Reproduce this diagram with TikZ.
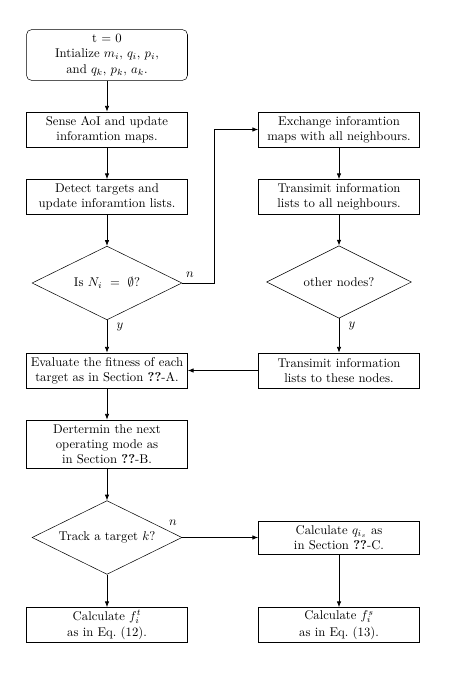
\documentclass[tikz,border=0pt]{standalone}
\usetikzlibrary{shapes.geometric,arrows.meta}
\begin{document}
\begin{tikzpicture}[x=0.787pt,y=-0.787pt,
  procbox/.style={draw,semithick,minimum width=126.7pt,minimum height=27.5pt,align=center,inner sep=2pt},
  decbox/.style={draw,diamond,shape aspect=2,minimum width=118pt,minimum height=58pt,inner sep=0pt,align=center},
  arr/.style={semithick,-{Latex[length=4.5pt,width=3.5pt]}},
  lbl/.style={inner sep=1pt}]
\useasboundingbox (0,0) rectangle (458,680);
\node[procbox,thin,rounded corners=4pt,minimum height=40pt] (start) at (107,55) {t $=$ 0\\Intialize $m_i$, $q_i$, $p_i$,\\and $q_k$, $p_k$, $a_k$.};
\node[procbox] (sense) at (107,129.5) {Sense AoI and update\\inforamtion maps.};
\node[procbox] (detect) at (107,197) {Detect targets and\\update inforamtion lists.};
\node[decbox] (d1) at (107,283) {Is $N_i ~=~ \emptyset$?};
\node[procbox] (eval) at (107,370.5) {Evaluate the fitness of each\\target as in Section \textbf{??}-A.};
\node[procbox,minimum height=37.8pt] (mode) at (107,444) {Dertermin the next\\operating mode as\\in Section \textbf{??}-B.};
\node[decbox] (d2) at (107,537.5) {Track a target $k$?};
\node[procbox] (ft) at (107,625) {Calculate $f_i^t$\\[1pt]as in Eq.~(12).};
\node[procbox] (exch) at (339,129.5) {Exchange inforamtion\\maps with all neighbours.};
\node[procbox] (trall) at (339,197) {Transimit information\\lists to all neighbours.};
\node[decbox,minimum width=114pt,minimum height=57pt] (d3) at (339,282) {other nodes?};
\node[procbox] (trthese) at (339,370.5) {Transimit information\\lists to these nodes.};
\node[procbox,minimum height=26pt] (cq) at (339,537.5) {Calculate $q_{i_s}$ as\\in Section \textbf{??}-C.};
\node[procbox] (fs) at (339,625) {Calculate $f_i^s$\\[1pt]as in Eq.~(13).};
\coordinate (turn) at (214,283);
\draw[arr] (start) -- (sense);
\draw[arr] (sense) -- (detect);
\draw[arr] (detect) -- (d1);
\draw[arr] (d1) -- (eval);
\draw[arr] (eval) -- (mode);
\draw[arr] (mode) -- (d2);
\draw[arr] (d2) -- (ft);
\draw[arr] (d1.east) -- (turn) |- (exch.west);
\draw[arr] (exch) -- (trall);
\draw[arr] (trall) -- (d3);
\draw[arr] (d3) -- (trthese);
\draw[arr] (trthese) -- (eval);
\draw[arr] (d2.east) -- (cq.west);
\draw[arr] (cq) -- (fs);
\node[lbl] (n1) at (190,275) {$n$};
\node[lbl] (y1) at (120,327) {$y$};
\node[lbl] (y3) at (352,326) {$y$};
\node[lbl] (n2) at (173,523) {$n$};
\end{tikzpicture}
\end{document}
